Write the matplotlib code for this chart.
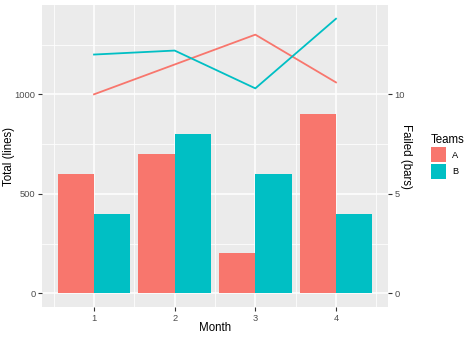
import matplotlib
matplotlib.use("Agg")
import matplotlib.pyplot as plt
from matplotlib.patches import Patch
from matplotlib.ticker import FixedLocator
import numpy as np

plt.rcParams['font.family'] = ['Liberation Sans', 'DejaVu Sans']

months = [1, 2, 3, 4]
teams = ["A", "B"]
total_A = [1000, 1150, 1300, 1060]
total_B = [1200, 1220, 1030, 1380]
failed_A = [6, 7, 2, 9]
failed_B = [4, 8, 6, 4]
colors = {"A": "#F8766D", "B": "#00BFC4"}
SCALE = 100

fig = plt.figure(figsize=(4.74, 3.38), dpi=100)
ax = fig.add_axes([42/474, 1-307/338, (388-42)/474, (307-5)/338])
ax.set_facecolor("#EBEBEB")
for s in ax.spines.values():
    s.set_visible(False)

x = np.array(months, dtype=float)
w = 0.45
ax.bar(x - w/2, np.array(failed_A)*SCALE, width=w, color=colors["A"], zorder=2)
ax.bar(x + w/2, np.array(failed_B)*SCALE, width=w, color=colors["B"], zorder=2)
ax.plot(x, total_A, color=colors["A"], lw=1.3, zorder=3)
ax.plot(x, total_B, color=colors["B"], lw=1.3, zorder=3)

ymax = 1380
ax.set_ylim(-0.05*ymax, ymax*1.05)
ax.set_xlim(0.55 - 0.195, 4.45 + 0.195)

ax.xaxis.set_major_locator(FixedLocator(months))
ax.xaxis.set_minor_locator(FixedLocator([0.5, 1.5, 2.5, 3.5, 4.5]))
ax.yaxis.set_major_locator(FixedLocator([0, 500, 1000]))
ax.yaxis.set_minor_locator(FixedLocator([250, 750, 1250]))
ax.grid(which="major", color="white", lw=1.1, zorder=0)
ax.grid(which="minor", color="white", lw=0.55, zorder=0)
ax.set_axisbelow(True)
ax.tick_params(which="minor", length=0)
ax.tick_params(which="major", length=2.7, width=0.8, color="#333333",
               labelsize=6.7, labelcolor="#4D4D4D", pad=2)
ax.set_xticklabels([str(m) for m in months])

sec = ax.secondary_yaxis('right', functions=(lambda y: y/SCALE, lambda y: y*SCALE))
sec.yaxis.set_major_locator(FixedLocator([0, 5, 10]))
sec.tick_params(length=2.7, width=0.8, color="#333333",
                labelsize=6.7, labelcolor="#4D4D4D", pad=2)
for s in sec.spines.values():
    s.set_visible(False)

ax.set_xlabel("Month", fontsize=8.3)
ax.xaxis.set_label_coords(0.5, -(322-307)/302)
ax.set_ylabel("Total (lines)", fontsize=8.3)
ax.yaxis.set_label_coords(-(42-15)/346, 0.5)
sec.set_ylabel("Failed (bars)", fontsize=8.3, rotation=-90, labelpad=5)

handles = [Patch(facecolor=colors[t], edgecolor="none") for t in teams]
leg = fig.legend(handles, teams, loc="upper left",
                 bbox_to_anchor=(431/474, 1-134/338), frameon=False,
                 fontsize=6.7, title="Teams", title_fontsize=8.3,
                 handlelength=1.6, handleheight=2.1, handletextpad=0.7,
                 labelspacing=0.15, borderpad=0, borderaxespad=0,
                 alignment="left")

fig.savefig("out.png", dpi=100)
